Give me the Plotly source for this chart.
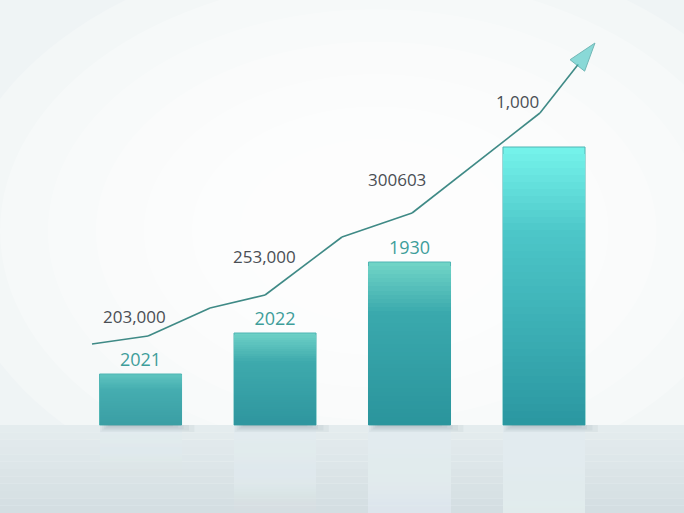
import plotly.graph_objects as go

# ---- data ----
years = ["2021", "2022", "2023", "2024"]
bar_values = [51, 92, 163, 278]
bar_labels = ["2021", "2022", "1930", ""]
trend_x = [-0.361, 0.056, 0.517, 0.926, 1.498, 2.019, 2.970, 3.379]
trend_y = [81, 89, 117, 130, 188, 212, 312, 382]
trend_labels = ["", "203,000", "", "253,000", "", "300603", "1,000", ""]

# ---- styles ----
label_shift = {1: (-14, 20), 3: (-1, 39), 5: (-15, 34), 6: (-22, 12)}
top_colors = ["#5ec4bf", "#6dd0c6", "#70d4c6", "#74f2ea"]
mid_colors = ["#45adb0", "#3eaaad", "#3aa9ad", "#4cc6c8"]
bot_colors = ["#3a9ea4", "#2e959e", "#2a949c", "#2a96a0"]
X_RANGE = [-1.045, 4.041]
Y_RANGE = [-88, 425]
N = 40


def hx(c):
    c = c.lstrip("#")
    return [int(c[i:i + 2], 16) for i in (0, 2, 4)]


def mix(a, b, t):
    a, b = hx(a), hx(b)
    return "rgb(%d,%d,%d)" % tuple(round(a[i] + (b[i] - a[i]) * t) for i in range(3))


def grad(i, t):
    if t < 0.3:
        return mix(top_colors[i], mid_colors[i], t / 0.3)
    return mix(mid_colors[i], bot_colors[i], (t - 0.3) / 0.7)


bar_x = list(range(len(years)))
fig = go.Figure()

# soft light vignette on the wall
for k in range(7):
    r = 0.62 - k * 0.07
    fig.add_shape(type="circle", xref="paper", yref="paper",
                  x0=0.55 - r, x1=0.55 + r, y0=0.55 - r * 0.9, y1=0.55 + r * 0.9,
                  fillcolor="rgba(255,255,255,0.25)", line_width=0, layer="below")

# floor bands (gradient)
floor_top, floor_bot = "#e4ecee", "#d4dee2"
for k in range(12):
    y0 = Y_RANGE[0] * k / 12
    y1 = Y_RANGE[0] * (k + 1) / 12
    fig.add_shape(type="rect", xref="paper", yref="y", x0=0, x1=1, y0=y0, y1=y1,
                  fillcolor=mix(floor_top, floor_bot, k / 11), line_width=0, layer="below")

# reflections (subtle)
for k in range(N):
    t = k / N
    fig.add_trace(go.Bar(
        x=bar_x, y=[-v * (1 - t) for v in bar_values], width=0.61,
        marker=dict(color="rgba(228,238,241,%.3f)" % (0.04 + 0.15 * t), line_width=0),
        hoverinfo="skip", showlegend=False))

# soft base shadows (drawn above the floor, below the base line)
for i in bar_x:
    for j in range(5):
        fig.add_shape(type="rect", xref="x", yref="y",
                      x0=i - 0.30 + j * 0.015, x1=i + 0.40 - j * 0.04,
                      y0=-7 + j * 1.4, y1=0,
                      fillcolor="rgba(60,80,90,0.05)", line_width=0, layer="above")

# bars with vertical gradient
for k in range(N):
    t = k / N
    fig.add_trace(go.Bar(
        x=bar_x, y=[v * (1 - t) for v in bar_values], width=0.61,
        marker=dict(color=[grad(i, t) for i in range(len(bar_x))],
                    line=dict(width=1 if k == 0 else 0, color="#4fb5b3")),
        text=bar_labels if k == 0 else None,
        textposition="outside" if k == 0 else "none",
        textfont=dict(family="Open Sans", size=18, color="#3f9e9a"),
        cliponaxis=False,
        hoverinfo="skip", showlegend=False))

# trend line with arrow head
fig.add_trace(go.Scatter(
    x=trend_x, y=trend_y, mode="lines+markers",
    line=dict(color="#3f8a86", width=1.6),
    marker=dict(symbol="arrow", angleref="previous",
                size=[0] * (len(trend_x) - 1) + [30],
                color="#5cccc9", line=dict(color="#3a9c9a", width=1)),
    hoverinfo="skip", showlegend=False))

for i, lab in enumerate(trend_labels):
    if lab:
        dx, dy = label_shift[i]
        fig.add_annotation(x=trend_x[i], y=trend_y[i], text=lab, showarrow=False,
                           xshift=dx, yshift=dy,
                           font=dict(family="Open Sans", size=17, color="#4a4e54"))

fig.update_layout(
    width=684, height=513, margin=dict(l=0, r=0, t=0, b=0),
    barmode="overlay", bargap=0,
    paper_bgcolor="#eff4f5", plot_bgcolor="#eff4f5",
    xaxis=dict(range=X_RANGE, visible=False, fixedrange=True),
    yaxis=dict(range=Y_RANGE, visible=False, fixedrange=True),
    showlegend=False,
)
fig.write_html("out.html", config={"displayModeBar": False, "staticPlot": True},
               post_script="document.body.style.margin='0';")
